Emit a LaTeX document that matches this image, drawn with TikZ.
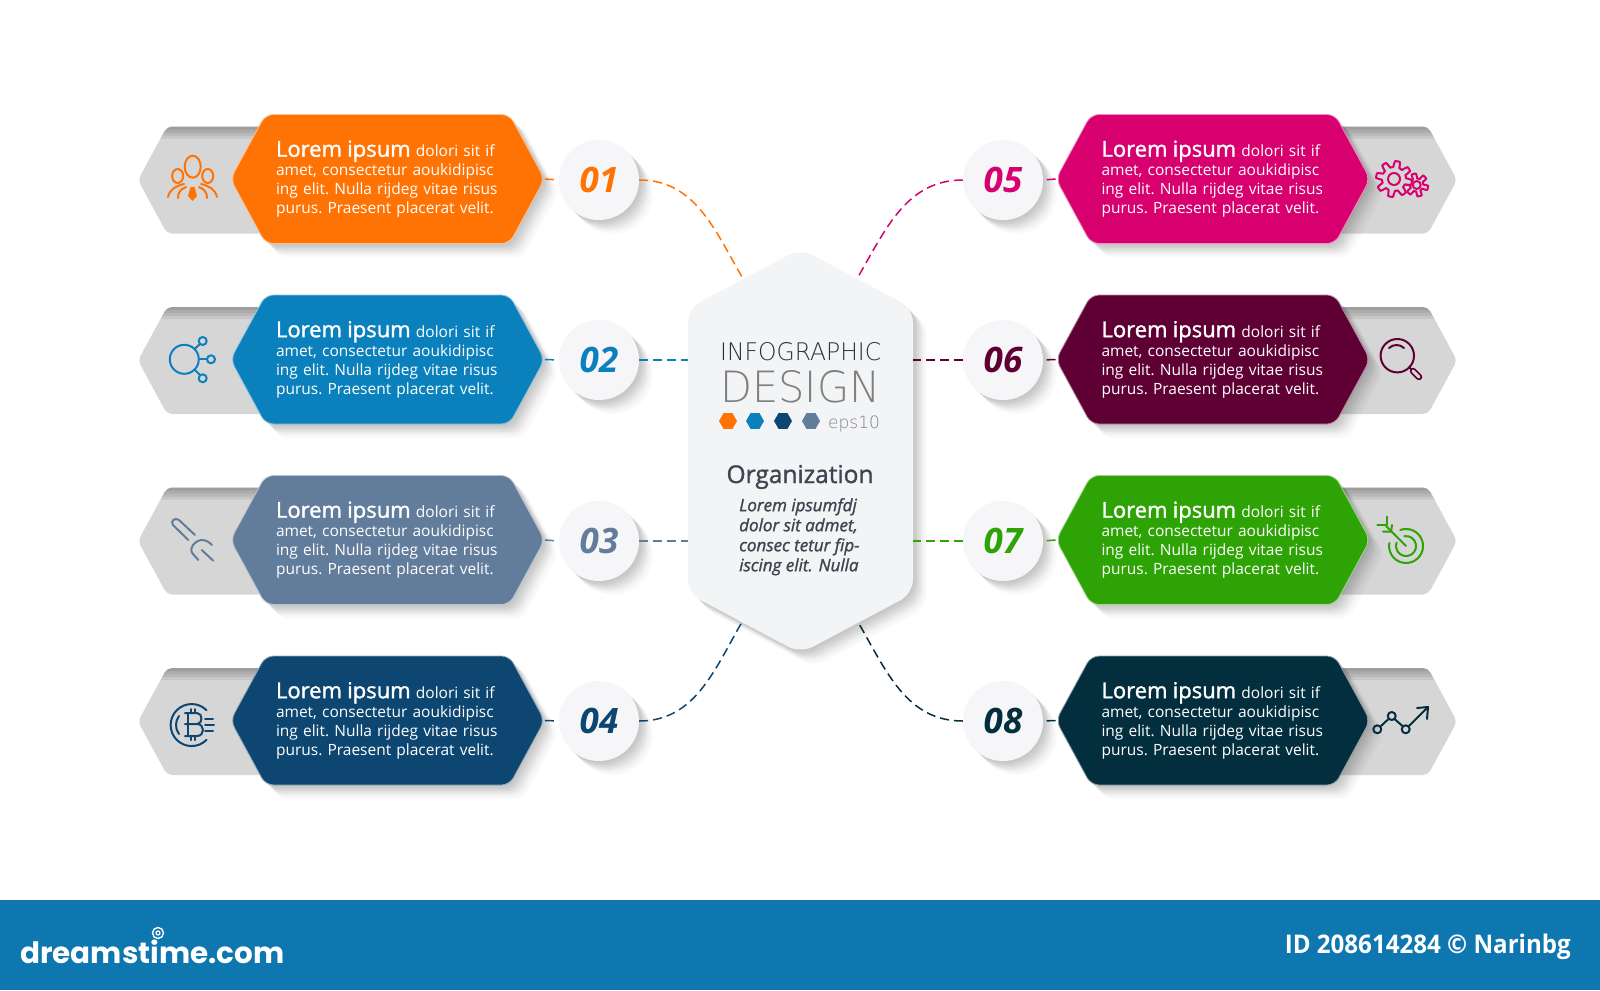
\documentclass[tikz,border=0pt]{standalone}
\usepackage{fontspec}
\setmainfont{Open Sans}
\newfontfamily\semiface{Open Sans}[FakeBold=1.4]
\newfontfamily\thinface{DejaVu Sans ExtraLight}
\newfontfamily\logoface{Poppins}
\usetikzlibrary{shapes.symbols,shapes.geometric,shadows}
\definecolor{cOne}{HTML}{FF7305}
\definecolor{cTwo}{HTML}{0A80BC}
\definecolor{cThree}{HTML}{627C9C}
\definecolor{cFour}{HTML}{0D4670}
\definecolor{cFive}{HTML}{D8006E}
\definecolor{cSix}{HTML}{5E0033}
\definecolor{cSeven}{HTML}{2EA305}
\definecolor{cEight}{HTML}{032E3E}
\definecolor{hexgray}{HTML}{D6D6D7}
\definecolor{paleface}{HTML}{F3F4F6}
\definecolor{discface}{HTML}{F6F6F8}
\definecolor{inkgray}{HTML}{3C4650}
\definecolor{barblue}{HTML}{0F77B0}
\newcommand{\loremtext}{{\fontsize{22}{19}\selectfont\semiface Lorem ipsum} dolori sit if\\amet, consectetur aoukidipisc\\ing elit. Nulla rijdeg vitae risus\\purus. Praesent placerat velit.}
\begin{document}
\begin{tikzpicture}[x=1pt,y=-1pt,
            softshade/.style={general shadow={shadow xshift=2pt,shadow yshift=-2pt,fill=black,opacity=.04},
              general shadow={shadow xshift=4pt,shadow yshift=-4pt,fill=black,opacity=.04},
              general shadow={shadow xshift=6pt,shadow yshift=-6pt,fill=black,opacity=.04},
              general shadow={shadow xshift=8pt,shadow yshift=-8pt,fill=black,opacity=.04},
              general shadow={shadow xshift=10pt,shadow yshift=-10pt,fill=black,opacity=.03},
              general shadow={shadow xshift=12pt,shadow yshift=-12pt,fill=black,opacity=.02},
              general shadow={shadow xshift=14pt,shadow yshift=-14pt,fill=black,opacity=.02}},
            backhex/.style={signal,signal to=east and west,signal pointer angle=123,minimum width=192pt,minimum height=107pt,
              rounded corners=5pt,inner sep=0pt,fill=hexgray,
              path picture={\foreach \h in {3,6,9,12}
                \fill[black,opacity=.07] (path picture bounding box.north west) rectangle ([yshift=-\h pt]path picture bounding box.north east);}},
            texthex/.style={signal,signal to=east and west,signal pointer angle=123,minimum width=314pt,minimum height=129pt,
              rounded corners=8pt,inner sep=0pt,text width=223pt,align=left,text=white,font=\fontsize{15.5}{19}\selectfont\frenchspacing,
              fill=#1,draw=#1!45!white,line width=.8pt,softshade},
            numdisc/.style={circle,minimum size=80pt,inner sep=0pt,fill=discface,font=\fontsize{35}{35}\selectfont\bfseries\itshape,softshade},
            stublink/.style={draw=#1,line width=1.5pt,dash pattern=on 9pt off 5pt},
            ico/.style={draw=#1,line width=2pt,line cap=round,line join=round},
            dothex/.style={regular polygon,regular polygon sides=6,minimum size=18pt,inner sep=0pt,fill=#1}]
  \useasboundingbox (0,0) rectangle (1600,990);
  \fill[white] (0,0) rectangle (1600,990);

  % left column
  \node[backhex] (g1) at (234,180) {};
  \node[backhex] (g2) at (234,360.5) {};
  \node[backhex] (g3) at (234,541) {};
  \node[backhex] (g4) at (234,721.5) {};
  \node[texthex=cOne] (h1) at (387.5,179) {\loremtext};
  \node[texthex=cTwo] (h2) at (387.5,359.5) {\loremtext};
  \node[texthex=cThree] (h3) at (387.5,540) {\loremtext};
  \node[texthex=cFour] (h4) at (387.5,720.5) {\loremtext};
  \node[numdisc,text=cOne] (c1) at (599,180) {01};
  \node[numdisc,text=cTwo] (c2) at (599,360) {02};
  \node[numdisc,text=cThree] (c3) at (599,541) {03};
  \node[numdisc,text=cFour] (c4) at (599,721) {04};

  % right column
  \node[backhex] (g5) at (1361,180) {};
  \node[backhex] (g6) at (1361,360.5) {};
  \node[backhex] (g7) at (1361,541) {};
  \node[backhex] (g8) at (1361,721.5) {};
  \node[texthex=cFive] (h5) at (1213,179) {\loremtext};
  \node[texthex=cSix] (h6) at (1213,359.5) {\loremtext};
  \node[texthex=cSeven] (h7) at (1213,540) {\loremtext};
  \node[texthex=cEight] (h8) at (1213,720.5) {\loremtext};
  \node[numdisc,text=cFive] (c5) at (1003,180) {05};
  \node[numdisc,text=cSix] (c6) at (1003,360) {06};
  \node[numdisc,text=cSeven] (c7) at (1003,541) {07};
  \node[numdisc,text=cEight] (c8) at (1003,721) {08};

  % middle
  \coordinate (t1) at (742,277);
  \coordinate (t4) at (742,622);
  \coordinate (t5) at (858,277);
  \coordinate (t8) at (858,622);
  \draw[stublink=cOne] (c1.east) to[out=0,in=120] (t1);
  \draw[stublink=cFour] (c4.east) to[out=0,in=-120] (t4);
  \draw[stublink=cFive] (c5.west) to[out=180,in=60] (t5);
  \draw[stublink=cEight] (c8.west) to[out=180,in=-60] (t8);
  \node[signal,signal to=north and south,signal pointer angle=124,minimum width=225pt,minimum height=285pt,
    rounded corners=14pt,inner sep=0pt,fill=paleface,softshade] (core) at (800.5,451) {};
  \draw[stublink=cTwo] (c2.east) -- (core.west |- c2.east);
  \draw[stublink=cThree] (c3.east) -- (core.west |- c3.east);
  \draw[stublink=cSix] (c6.west) -- (core.east |- c6.west);
  \draw[stublink=cSeven] (c7.west) -- (core.east |- c7.west);
  \draw[stublink=cOne] (h1.east) -- (c1.west);
  \draw[stublink=cTwo] (h2.east) -- (c2.west);
  \draw[stublink=cThree] (h3.east) -- (c3.west);
  \draw[stublink=cFour] (h4.east) -- (c4.west);
  \draw[stublink=cFive] (h5.west) -- (c5.east);
  \draw[stublink=cSix] (h6.west) -- (c6.east);
  \draw[stublink=cSeven] (h7.west) -- (c7.east);
  \draw[stublink=cEight] (h8.west) -- (c8.east);

  \node[anchor=base west,inner sep=0pt,text=inkgray!70!black] (infotitle) at (720,360) {\resizebox{161pt}{18pt}{\thinface INFOGRAPHIC}};
  \node[anchor=base west,inner sep=0pt,text=gray] (designtitle) at (720,402) {\resizebox{160pt}{32pt}{\thinface DESIGN}};
  \node[dothex=cOne] (d1) at (728,421) {};
  \node[dothex=cTwo] (d2) at (755,421) {};
  \node[dothex=cFour] (d3) at (783,421) {};
  \node[dothex=cThree] (d4) at (811,421) {};
  \node[anchor=base west,inner sep=0pt,text=gray,font=\fontsize{17}{17}\selectfont\thinface] (epslabel) at (828,428) {eps10};
  \node[anchor=base,inner sep=0pt,text=inkgray,font=\fontsize{24.5}{24}\selectfont\semiface] (orgtitle) at (800,483) {Organization};
  \node[anchor=north west,inner sep=0pt,text=inkgray,align=left,font=\fontsize{17}{20}\selectfont\semiface\itshape] (orgtext) at (739,498) {Lorem ipsumfdj\\dolor sit admet,\\consec tetur fip-\\iscing elit. Nulla};

  % icons
  \draw[ico=cOne] (192.7,166.7) ellipse [x radius=8,y radius=11];
  \draw[ico=cOne] (177.7,176) ellipse [x radius=5.5,y radius=7];
  \draw[ico=cOne] (207.7,176) ellipse [x radius=5.5,y radius=7];
  \draw[ico=cOne] (168,197) .. controls (170,189) and (176,186) .. (184,184);
  \draw[ico=cOne] (217,197) .. controls (215,189) and (209,186) .. (201,184);
  \draw[ico=cOne] (178,198) .. controls (178,192) and (181,189) .. (186,187);
  \draw[ico=cOne] (207,198) .. controls (207,192) and (204,189) .. (199,187);
  \fill[cOne] (190.5,187) -- (194.5,187) -- (197,196) -- (192.5,201) -- (188,196) -- cycle;

  \draw[ico=cTwo] (184.3,359.3) circle [radius=14.5];
  \draw[ico=cTwo] (202.7,341) circle [radius=4];
  \draw[ico=cTwo] (211,359.3) circle [radius=4];
  \draw[ico=cTwo] (202.7,378.3) circle [radius=4];
  \draw[ico=cTwo] (194.5,349) -- (200,344);
  \draw[ico=cTwo] (198.8,359.3) -- (207,359.3);
  \draw[ico=cTwo] (194.5,369.5) -- (200,375);

  \draw[ico=cThree] (188.3,540) -- (173,525) .. controls (170,521) and (175,517) .. (179,520) -- (195,535);
  \draw[ico=cThree] (198.3,560) -- (193,554) .. controls (188,549) and (195,540) .. (202,540) .. controls (206,540) and (209,542) .. (212,545);
  \draw[ico=cThree] (201.7,550) -- (213.3,560.7);

  \draw[ico=cFour] (206.5,710.2) arc [start angle=-45,delta angle=-270,radius=21];
  \draw[ico=cFour] (179,716) .. controls (175,721) and (175,729) .. (179,734);
  \draw[ico=cFour] (185,713) -- (197,713) .. controls (203,713) and (203,724) .. (197,724) -- (185,724);
  \draw[ico=cFour] (197,724) .. controls (205,724) and (205,736) .. (197,736) -- (185,736);
  \draw[ico=cFour] (188,713) -- (188,736);
  \draw[ico=cFour] (191,709) -- (191,713);
  \draw[ico=cFour] (195,709) -- (195,713);
  \draw[ico=cFour] (191,736) -- (191,740);
  \draw[ico=cFour] (195,736) -- (195,740);
  \draw[ico=cFour] (205,719) -- (213,719);
  \draw[ico=cFour] (205,725) -- (214,725);
  \draw[ico=cFour] (205,731) -- (213,731);

  \draw[ico=cFive] plot[domain=0:360,samples=97] ({1416.7+(9+2.5*sign(sin(6*\x)))*cos(\x)},{185+(9+2.5*sign(sin(6*\x)))*sin(\x)}) -- cycle;
  \draw[ico=cFive] (1416.7,185) circle [radius=4];
  \draw[ico=cFive,fill=hexgray] plot[domain=0:360,samples=97] ({1394+(15+3*sign(sin(8*\x)))*cos(\x)},{179+(15+3*sign(sin(8*\x)))*sin(\x)}) -- cycle;
  \draw[ico=cFive] (1394,179) circle [radius=6];

  \draw[ico=cSix] (1397.3,355.7) circle [radius=16.7];
  \draw[ico=cSix] (1389,348) .. controls (1393,344) and (1400,344) .. (1404,348);
  \draw[ico=cSix] (1409,367) -- (1412,370);
  \draw[draw=cSix,line width=6.5pt,line cap=round] (1413,371) -- (1419,377);
  \draw[draw=hexgray,line width=3pt,line cap=round] (1413,371) -- (1419,377);

  \draw[ico=cSeven] (1400.2,530) arc [start angle=-110,delta angle=300,radius=17];
  \draw[ico=cSeven] (1404.3,536.2) arc [start angle=-100,delta angle=300,radius=10];
  \draw[ico=cSeven] (1406,546) -- (1386,526);
  \draw[ico=cSeven] (1377.3,525) -- (1387.3,525) -- (1387.3,516.7);
  \draw[ico=cSeven] (1383,531.7) -- (1391,531.7) -- (1392,525);

  \draw[ico=cEight] (1377.3,729.3) circle [radius=4];
  \draw[ico=cEight] (1391.7,716) circle [radius=4];
  \draw[ico=cEight] (1405.7,729.3) circle [radius=4];
  \draw[ico=cEight] (1381,726) -- (1388.5,719);
  \draw[ico=cEight] (1394.5,719) -- (1402.5,726);
  \draw[ico=cEight] (1409,726) -- (1427,708);
  \draw[ico=cEight] (1417,708) -- (1428,707) -- (1427,719);

  % bottom bar
  \fill[barblue] (0,900) rectangle (1600,990);
  \node[anchor=base west,inner sep=0pt,text=white] (logoword) at (20,963) {\resizebox{264pt}{!}{\logoface\bfseries dreamstime.com}};
  \draw[draw=white,line width=1.4pt] (158,933) circle [radius=5.5];
  \draw[draw=white,line width=1.2pt] (158,933) circle [radius=2];
  \node[anchor=base east,inner sep=0pt,text=white] (stockid) at (1571,953) {\resizebox{286pt}{19.5pt}{\bfseries ID 208614284 © Narinbg}};
\end{tikzpicture}
\end{document}
